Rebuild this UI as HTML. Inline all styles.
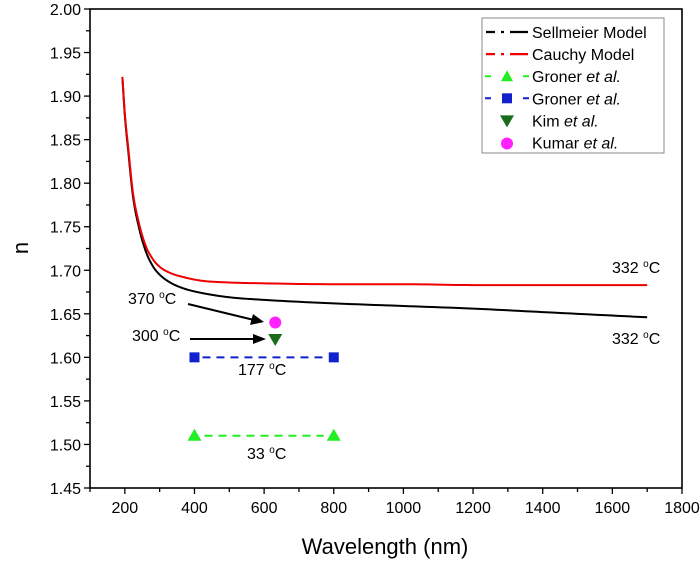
<!DOCTYPE html>
<html><head><meta charset="utf-8"><style>
body{margin:0;background:#fff}
svg{display:block;font-family:"Liberation Sans",Arial,sans-serif}
</style></head><body>
<svg id="chart" width="700" height="564">
<g id="axes"></g>
<g id="series"></g>
<g id="annot">
<text x="128" y="304" font-size="16">370 <tspan dy="-6" font-size="10">o</tspan><tspan dy="6">C</tspan></text>
<text x="132" y="341" font-size="16">300 <tspan dy="-6" font-size="10">o</tspan><tspan dy="6">C</tspan></text>
<text x="238" y="375" font-size="16">177 <tspan dy="-6" font-size="10">o</tspan><tspan dy="6">C</tspan></text>
<text x="247" y="459" font-size="16">33 <tspan dy="-6" font-size="10">o</tspan><tspan dy="6">C</tspan></text>
<text x="612" y="273" font-size="16">332 <tspan dy="-6" font-size="10">o</tspan><tspan dy="6">C</tspan></text>
<text x="612" y="344" font-size="16">332 <tspan dy="-6" font-size="10">o</tspan><tspan dy="6">C</tspan></text>
<line x1="188" y1="304" x2="254" y2="320" stroke="#000" stroke-width="2"/>
<polygon points="264,322 250,325 253,314" fill="#000"/>
<line x1="190" y1="339" x2="256" y2="339" stroke="#000" stroke-width="2"/>
<polygon points="266,339 253,334 253,344" fill="#000"/>
</g>
<g id="legend">
<rect x="482" y="18" width="182" height="135" fill="#fff" stroke="#888"/>
</g>
<text x="385" y="554" font-size="22" text-anchor="middle">Wavelength (nm)</text>
<text x="28" y="248" font-size="22" text-anchor="middle" transform="rotate(-90 28 248)">n</text>
</svg>
<script>
const wl=[193,200,210,223,240,260,280,300,330,370,420,500,600,800,1000,1200,1400,1600,1700];
const cauchy=[1.922,1.88,1.84,1.79,1.755,1.728,1.713,1.704,1.697,1.692,1.688,1.686,1.685,1.684,1.684,1.683,1.683,1.683,1.683];
const sellmeier=[1.922,1.878,1.836,1.786,1.75,1.722,1.705,1.695,1.686,1.679,1.674,1.669,1.666,1.662,1.659,1.656,1.652,1.648,1.646];
const gronerAX=[400,800], gronerAY=[1.51,1.51];
const gronerBX=[400,800], gronerBY=[1.60,1.60];
const kimX=[632], kimY=[1.62];
const kumarX=[632], kumarY=[1.64];
const xTicks=[200,400,600,800,1000,1200,1400,1600,1800];
const yTicks=[1.45,1.50,1.55,1.60,1.65,1.70,1.75,1.80,1.85,1.90,1.95,2.00];
const L=90,R=682,T=9,B=488;
const X=v=>L+(v-100)/1700*(R-L);
const Y=v=>B-(v-1.45)/0.55*(B-T);
const NS="http://www.w3.org/2000/svg";
function mk(tag,attrs,parent){const e=document.createElementNS(NS,tag);for(const k in attrs)e.setAttribute(k,attrs[k]);parent.appendChild(e);return e;}
const ax=document.getElementById('axes'),se=document.getElementById('series'),lg=document.getElementById('legend');
let e=mk('rect',{x:L,y:T,width:R-L,height:B-T,fill:'none',stroke:'#000','stroke-width':1.6},ax);


for(let v=100;v<=1800;v+=100){const major=v%200===0;
 e=mk('line',{x1:X(v),x2:X(v),y1:B,y2:B+(major?6:4),stroke:'#000','stroke-width':1.3},ax);
 
 }
xTicks.forEach(v=>{e=mk('text',{x:X(v),y:B+25,'font-size':16,'text-anchor':'middle'},ax);e.textContent=v;
 
 });
for(let i=0;i<yTicks.length;i++){const v=yTicks[i];
 e=mk('line',{x1:L-6,x2:L,y1:Y(v),y2:Y(v),stroke:'#000','stroke-width':1.3},ax);
 
 
 if(i<yTicks.length-1){e=mk('line',{x1:L-4,x2:L,y1:Y(v+0.025),y2:Y(v+0.025),stroke:'#000','stroke-width':1.3},ax);
 
 }
 e=mk('text',{x:L-9,y:Y(v)+6,'font-size':16,'text-anchor':'end'},ax);e.textContent=v.toFixed(2);
 
 }
function smooth(xs,ys){
 const n=xs.length,d=[],m=[];
 for(let i=0;i<n-1;i++)d.push((ys[i+1]-ys[i])/(xs[i+1]-xs[i]));
 m[0]=d[0];m[n-1]=d[n-2];
 for(let i=1;i<n-1;i++){m[i]=(d[i-1]*d[i]<=0)?0:(d[i-1]+d[i])/2;}
 for(let i=0;i<n-1;i++){if(d[i]===0){m[i]=0;m[i+1]=0;continue;}
  const a=m[i]/d[i],b=m[i+1]/d[i],s=a*a+b*b;if(s>9){const t=3/Math.sqrt(s);m[i]=t*a*d[i];m[i+1]=t*b*d[i];}}
 let path='M'+X(xs[0])+','+Y(ys[0]);
 for(let i=0;i<n-1;i++){const h=xs[i+1]-xs[i];
  for(let k=1;k<=12;k++){const t=k/12,t2=t*t,t3=t2*t;
   const y=(2*t3-3*t2+1)*ys[i]+(t3-2*t2+t)*h*m[i]+(-2*t3+3*t2)*ys[i+1]+(t3-t2)*h*m[i+1];
   path+=' L'+X(xs[i]+t*h).toFixed(2)+','+Y(y).toFixed(2);}}
 return path;}
e=mk('path',{d:smooth(wl,sellmeier),fill:'none',stroke:'#000','stroke-width':2},se);


e=mk('path',{d:smooth(wl,cauchy),fill:'none',stroke:'#e00','stroke-width':2},se);


e=mk('line',{x1:X(gronerAX[0])+10,x2:X(gronerAX[1])-10,y1:Y(gronerAY[0]),y2:Y(gronerAY[1]),stroke:'#2e2','stroke-width':2,'stroke-dasharray':'8,6'},se);


gronerAX.forEach((x,i)=>{e=mk('polygon',{points:`${X(x)-7},${Y(gronerAY[i])+5} ${X(x)+7},${Y(gronerAY[i])+5} ${X(x)},${Y(gronerAY[i])-7}`,fill:'#2e2'},se);
 
 });
e=mk('line',{x1:X(gronerBX[0])+8,x2:X(gronerBX[1])-8,y1:Y(gronerBY[0]),y2:Y(gronerBY[1]),stroke:'#12c','stroke-width':2,'stroke-dasharray':'8,6'},se);


gronerBX.forEach((x,i)=>{e=mk('rect',{x:X(x)-5,y:Y(gronerBY[i])-5,width:10,height:10,fill:'#12c'},se);
 
 });
kimX.forEach((x,i)=>{e=mk('polygon',{points:`${X(x)-7},${Y(kimY[i])-6} ${X(x)+7},${Y(kimY[i])-6} ${X(x)},${Y(kimY[i])+6}`,fill:'#1a6b1a'},se);
 
 });
kumarX.forEach((x,i)=>{e=mk('circle',{cx:X(x),cy:Y(kumarY[i]),r:6,fill:'#f2f'},se);
 
 });
const rows=[['Sellmeier Model','',"#000",'dashdot'],['Cauchy Model','',"#e00",'dashdot'],['Groner ','et al.','#2e2','tri'],['Groner ','et al.','#12c','sq'],['Kim ','et al.','#1a6b1a','down'],['Kumar ','et al.','#f2f','circ']];
rows.forEach((r,i)=>{const y=32+i*22.1,cx=507;
 if(r[3]==='dashdot'){e=mk('path',{d:`M486 ${y}h9M501 ${y}h3M510 ${y}h18`,stroke:r[2],'stroke-width':2.2,fill:'none'},lg);}
 else if(r[3]==='tri'||r[3]==='sq'){e=mk('path',{d:`M485 ${y}h6M523 ${y}h6`,stroke:r[2],'stroke-width':2,fill:'none'},lg);
  if(r[3]==='tri')mk('polygon',{points:`${cx-6},${y+5} ${cx+6},${y+5} ${cx},${y-6}`,fill:r[2]},lg);
  else mk('rect',{x:cx-5,y:y-5,width:10,height:10,fill:r[2]},lg);}
 else if(r[3]==='down'){e=mk('polygon',{points:`${cx-7},${y-5} ${cx+7},${y-5} ${cx},${y+7}`,fill:r[2]},lg);}
 else {e=mk('circle',{cx:cx,cy:y+1,r:6,fill:r[2]},lg);}
 
 
 const t=mk('text',{x:532,y:y+6,'font-size':16},lg);t.textContent=r[0];
 if(r[1]){const ts=mk('tspan',{'font-style':'italic'},t);ts.textContent=r[1];}
 
 });
</script>
</body></html>
